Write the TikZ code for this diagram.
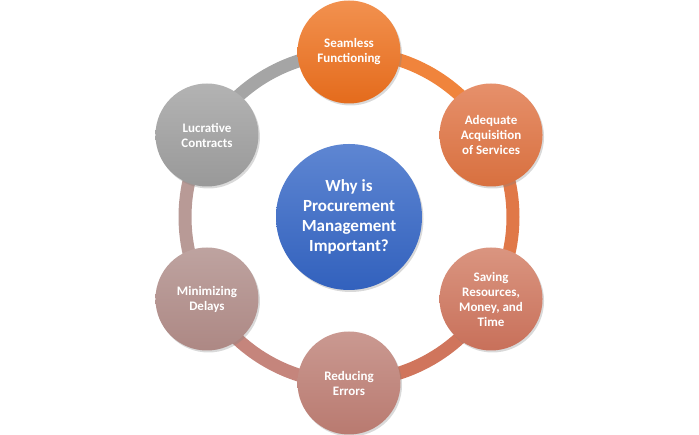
\documentclass[tikz,border=0pt]{standalone}
\usepackage{fontspec}
\setmainfont{Carlito}
\usetikzlibrary{backgrounds,shadows}

\definecolor{seamT}{HTML}{F2914F}\definecolor{seamB}{HTML}{E46B1C}
\definecolor{adeqT}{HTML}{E6906B}\definecolor{adeqB}{HTML}{D8703F}
\definecolor{saveT}{HTML}{DA9580}\definecolor{saveB}{HTML}{C8705A}
\definecolor{reduT}{HTML}{CA9991}\definecolor{reduB}{HTML}{B97A70}
\definecolor{miniT}{HTML}{BEA3A0}\definecolor{miniB}{HTML}{AD8884}
\definecolor{lucrT}{HTML}{B3B3B3}\definecolor{lucrB}{HTML}{999999}
\definecolor{centT}{HTML}{5E86D2}\definecolor{centB}{HTML}{3261BD}

\tikzset{
  ring/.style={line width=13pt},
  bubble/.style={circle, align=center, text=white, inner sep=0pt,
    drop shadow={shadow xshift=1.5pt, shadow yshift=-2pt, opacity=.3}},
}

\begin{document}
\begin{tikzpicture}[x=1pt,y=1pt]
  \useasboundingbox (0,0) rectangle (699,435);

  \begin{scope}[shift={(349,218)}]

    \node[bubble, minimum size=146pt, top color=centT, bottom color=centB,
      font=\bfseries\fontsize{17}{20}\selectfont] (c) at (0,0)
      {Why is\\Procurement\\Management\\Important?};

    \begin{scope}[every node/.style={bubble, minimum size=103pt,
        font=\bfseries\fontsize{13}{15}\selectfont}]
      \node[top color=seamT, bottom color=seamB] (1) at (90:165)  {Seamless\\Functioning};
      \node[top color=adeqT, bottom color=adeqB] (2) at (30:164)  {Adequate\\Acquisition\\of Services};
      \node[top color=saveT, bottom color=saveB] (3) at (-30:164) {Saving\\Resources,\\Money, and\\Time};
      \node[top color=reduT, bottom color=reduB] (4) at (-90:166) {Reducing\\Errors};
      \node[top color=miniT, bottom color=miniB] (5) at (210:164) {Minimizing\\Delays};
      \node[top color=lucrT, bottom color=lucrB] (6) at (150:164) {Lucrative\\Contracts};
    \end{scope}

    % ring pieces behind the bubbles
    \begin{scope}[on background layer]
      \draw[ring, color={rgb,255:red,165;green,165;blue,165}] (6.center) arc[start angle=150, end angle=90, radius=164];
      \draw[ring, color={rgb,255:red,240;green,132;blue,60}]  (1.center) arc[start angle=90, end angle=30, radius=164];
      \draw[ring, color={rgb,255:red,224;green,120;blue,72}]  (2.center) arc[start angle=30, end angle=-30, radius=164];
      \draw[ring, color={rgb,255:red,208;green,117;blue,92}]  (3.center) arc[start angle=-30, end angle=-90, radius=164];
      \draw[ring, color={rgb,255:red,197;green,133;blue,124}] (4.center) arc[start angle=-90, end angle=-150, radius=164];
      \draw[ring, color={rgb,255:red,184;green,154;blue,150}] (5.center) arc[start angle=210, end angle=150, radius=164];
    \end{scope}

  \end{scope}

\end{tikzpicture}
\end{document}
